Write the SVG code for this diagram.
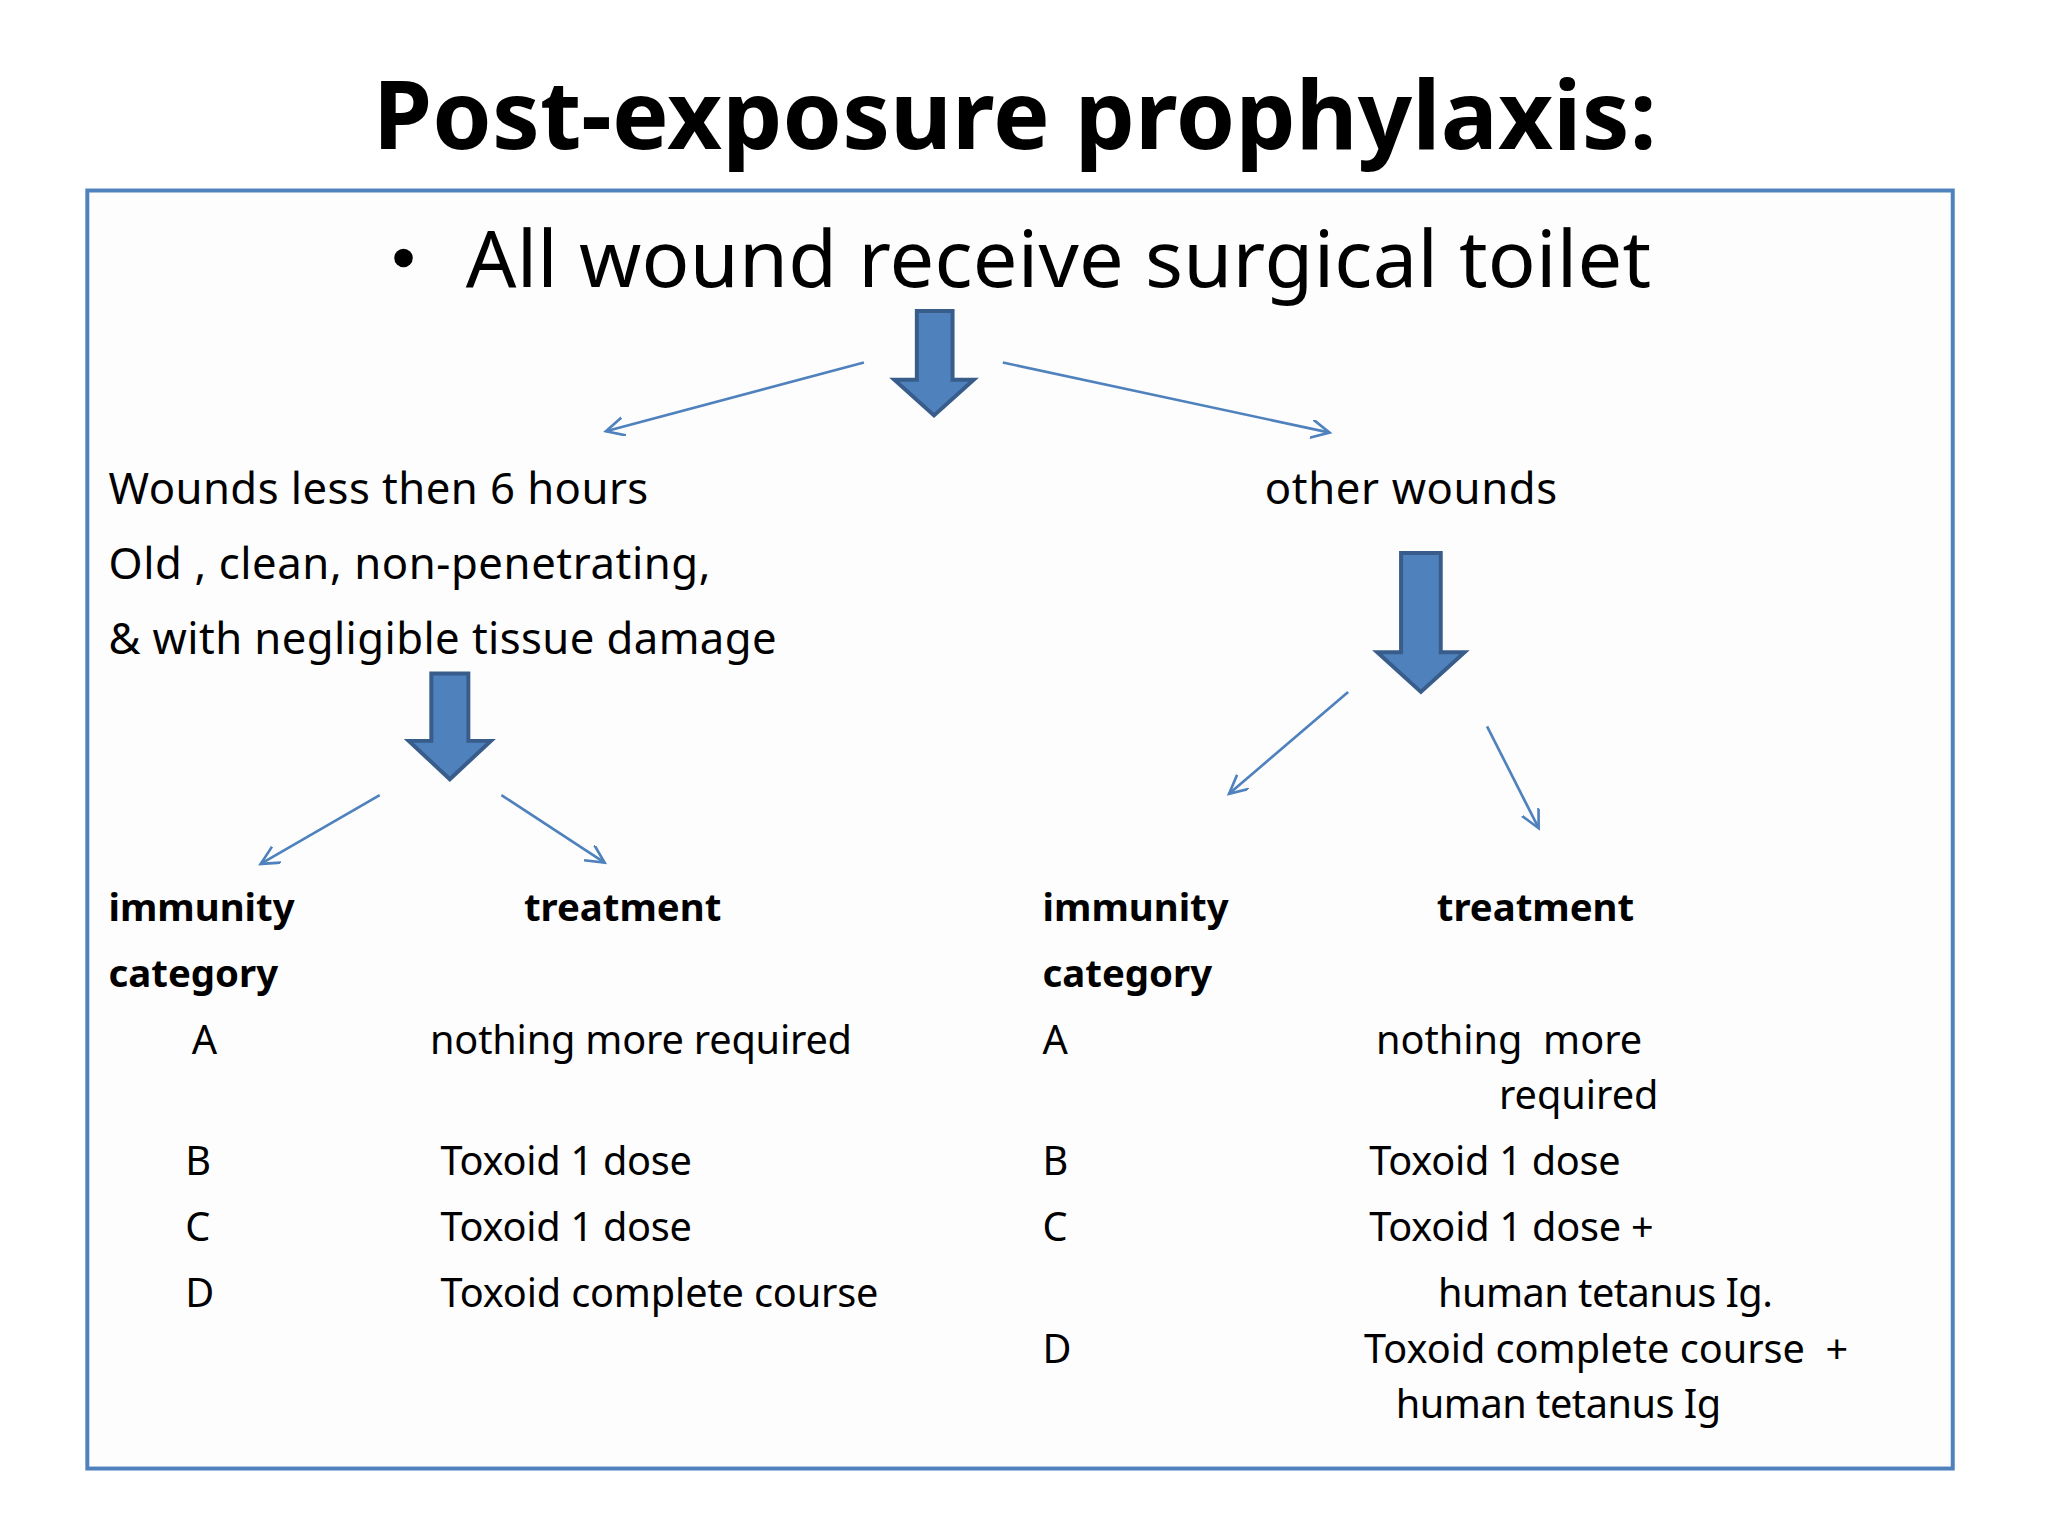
<svg xmlns="http://www.w3.org/2000/svg" width="2048" height="1536" viewBox="0 0 2048 1536">
<style>
text{font-family:"Noto Sans","Liberation Sans",sans-serif;fill:#000}
.t{font-size:33px}.b{font-size:29px;font-weight:bold}.r{font-size:30px}
.blk{fill:#4f81bd;stroke:#385d8a;stroke-width:3}
.ln{stroke:#4f81bd;stroke-width:2;fill:none;marker-end:url(#ah)}
</style>
<defs><marker id="ah" markerWidth="20" markerHeight="20" refX="14" refY="7" orient="auto" markerUnits="userSpaceOnUse"><path d="M0,0 L14,7 L0,14" fill="none" stroke="#4f81bd" stroke-width="2"/></marker></defs>
<rect width="2048" height="1536" fill="#fff"/>
<g transform="scale(1.323)">
<text x="282" y="113" font-size="72" font-weight="bold" textLength="970">Post-exposure prophylaxis:</text>
<rect x="66" y="144" width="1410" height="966" fill="#fdfdfe" stroke="#4f81bd" stroke-width="3"/>
<g id="top"><circle cx="305" cy="195" r="7"/><text x="352" y="217" font-size="60" textLength="896">All wound receive surgical toilet</text></g>
<g id="blockarrows">
<path class="blk" d="M693,235 H720 V287 H736 L706,314 L676,287 H693 Z"/>
<path class="blk" d="M326,509 H354 V560 H371 L340,589 L309,560 H326 Z"/>
<path class="blk" d="M1059,418 H1089 V493 H1107 L1074,523 L1041,493 H1059 Z"/>
</g>
<g id="connectors">
<line class="ln" x1="653" y1="274" x2="458" y2="326"/>
<line class="ln" x1="758" y1="274" x2="1005" y2="327"/>
<line class="ln" x1="287" y1="601" x2="197" y2="653"/>
<line class="ln" x1="379" y1="601" x2="457" y2="652"/>
<line class="ln" x1="1019" y1="523" x2="929" y2="600"/>
<line class="ln" x1="1124" y1="549" x2="1163" y2="626"/>
</g>
<g id="left">
<text class="t" x="82" y="381" textLength="408">Wounds less then 6 hours</text>
<text class="t" x="82" y="438" textLength="455">Old , clean, non-penetrating,</text>
<text class="t" x="82" y="494" textLength="505">&amp; with negligible tissue damage</text>
</g>
<g id="right"><text class="t" x="956" y="381" textLength="221">other wounds</text></g>
<g id="lefttable">
<text class="b" x="82" y="696">immunity</text><text class="b" x="82" y="746">category</text><text class="b" x="396" y="696">treatment</text>
<text class="r" x="145" y="797">A</text><text class="r" x="325" y="797" textLength="319">nothing more required</text>
<text class="r" x="140" y="888">B</text><text class="r" x="333" y="888" textLength="190">Toxoid 1 dose</text>
<text class="r" x="140" y="938">C</text><text class="r" x="333" y="938" textLength="190">Toxoid 1 dose</text>
<text class="r" x="140" y="988">D</text><text class="r" x="333" y="988" textLength="331">Toxoid complete course</text>
</g>
<g id="righttable">
<text class="b" x="788" y="696">immunity</text><text class="b" x="788" y="746">category</text><text class="b" x="1086" y="696">treatment</text>
<text class="r" x="788" y="797">A</text><text class="r" x="1040" y="797" xml:space="preserve">nothing  more</text><text class="r" x="1133" y="838">required</text>
<text class="r" x="788" y="888">B</text><text class="r" x="1035" y="888" textLength="190">Toxoid 1 dose</text>
<text class="r" x="788" y="938">C</text><text class="r" x="1035" y="938" textLength="215">Toxoid 1 dose +</text>
<text class="r" x="1087" y="988" textLength="253">human tetanus Ig.</text>
<text class="r" x="788" y="1030">D</text><text class="r" x="1031" y="1030" textLength="366" xml:space="preserve">Toxoid complete course  +</text>
<text class="r" x="1055" y="1072" textLength="246">human tetanus Ig</text>
</g>
</g>
</svg>
